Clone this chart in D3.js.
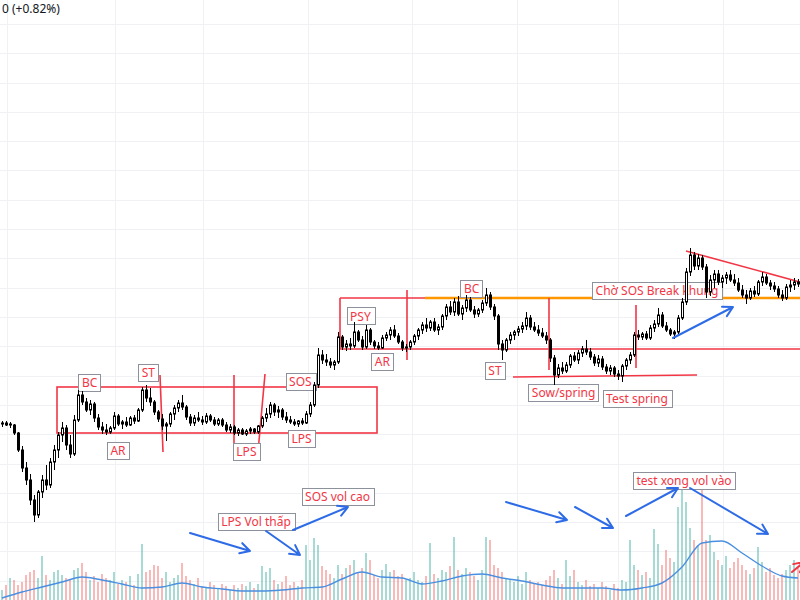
<!DOCTYPE html>
<html>
<head>
<meta charset="utf-8">
<script src="https://cdn.jsdelivr.net/npm/d3@7"></script>
<style>
  html, body { margin: 0; padding: 0; background: #fff; }
  svg { display: block; font-family: "Noto Sans", sans-serif; }
</style>
</head>
<body>
<svg id="chart" width="800" height="600"></svg>
<script>
// candle data: [open, high, low, close]
const ohlc = [
  [17.6,17.9,17.3,17.7],[17.7,17.9,17.4,17.5],[17.5,17.8,17.2,17.6],[17.5,17.6,16.5,16.7],[16.7,16.8,14.8,15.0],
  [15.0,15.4,12.8,13.2],[13.2,13.8,11.5,12.0],[12.0,12.6,9.5,10.0],[10.0,10.5,7.8,8.5],[8.5,11.0,8.2,10.8],
  [10.8,12.5,10.2,12.0],[12.0,13.5,11.0,11.5],[11.5,14.2,11.2,13.8],[13.8,15.5,13.0,15.0],[15.0,16.8,14.2,16.5],
  [16.5,17.8,15.8,17.2],[17.2,17.5,15.0,15.5],[15.5,16.5,14.2,14.6],[14.6,18.5,14.4,18.0],[18.0,21.0,17.8,20.5],
  [20.5,20.9,19.5,19.8],[19.8,20.2,18.8,19.0],[19.0,20.0,18.5,19.6],[19.6,19.8,17.8,18.2],[18.2,18.6,17.0,17.3],
  [17.3,17.8,16.6,17.0],[17.0,17.6,16.5,16.8],[16.8,17.4,16.6,17.2],[17.2,18.8,17.0,18.4],[18.4,18.6,17.4,17.6],
  [17.6,18.0,17.1,17.8],[17.8,18.3,17.3,17.5],[17.5,18.4,17.4,18.2],[18.2,18.5,17.6,17.9],[17.9,19.2,17.8,19.0],
  [19.0,21.3,18.8,21.0],[21.0,21.5,19.8,20.2],[20.2,21.2,19.4,19.8],[19.8,20.0,18.5,18.8],[18.8,19.0,17.8,18.1],
  [18.1,18.6,17.0,17.4],[17.4,17.8,15.9,17.6],[17.6,18.8,17.3,18.6],[18.6,19.5,18.0,19.2],[19.2,20.0,18.8,19.7],
  [19.7,20.5,19.0,19.3],[19.3,19.5,18.0,18.3],[18.3,18.6,17.4,17.7],[17.7,18.5,17.4,18.2],[18.2,18.8,17.8,18.0],
  [18.0,18.4,17.5,17.8],[17.8,18.7,17.6,18.4],[18.4,18.6,17.8,18.0],[18.0,18.3,17.4,17.6],[17.6,18.2,17.4,18.0],
  [18.0,18.2,17.3,17.5],[17.5,17.8,16.8,17.0],[17.0,17.6,16.7,17.3],[17.3,17.5,16.5,16.7],[16.7,17.2,16.4,17.0],
  [17.0,17.2,16.5,16.6],[16.6,17.1,16.4,16.9],[16.9,17.3,16.6,17.1],[17.1,17.2,16.6,16.8],[16.8,17.5,16.6,17.4],
  [17.4,18.4,17.2,18.2],[18.2,19.2,17.8,18.6],[18.6,19.8,18.2,19.5],[19.5,19.7,18.4,18.8],[18.8,19.4,18.2,19.0],
  [19.0,19.2,18.0,18.3],[18.3,18.8,17.7,18.0],[18.0,18.4,17.6,17.8],[17.8,18.1,17.4,17.6],[17.6,18.0,17.3,17.9],
  [17.9,18.2,17.5,17.7],[17.7,18.9,17.6,18.6],[18.6,19.8,18.3,19.5],[19.5,21.8,19.3,21.5],[21.5,25.2,21.2,24.5],
  [24.5,25.0,23.6,24.0],[24.0,24.6,23.4,23.8],[23.8,24.2,23.2,23.5],[23.5,24.0,23.0,23.8],[23.8,26.8,23.6,26.3],
  [26.3,26.5,25.0,25.3],[25.3,26.0,24.9,25.6],[25.6,26.2,25.0,25.4],[25.4,27.8,25.2,26.8],[26.8,27.0,25.8,26.0],
  [26.0,26.4,25.0,25.3],[25.3,27.5,25.1,27.0],[27.0,27.2,25.5,25.8],[25.8,26.0,25.1,25.4],[25.4,25.8,25.0,25.2],
  [25.2,26.5,25.1,26.2],[26.2,26.8,25.9,26.5],[26.5,27.3,26.0,27.0],[27.0,27.5,26.2,26.4],[26.4,26.7,25.6,25.8],
  [25.8,26.0,24.9,25.2],[25.2,25.6,24.8,25.3],[25.3,26.0,25.0,25.8],[25.8,26.6,25.5,26.4],[26.4,27.2,26.0,27.0],
  [27.0,27.8,26.6,27.5],[27.5,28.2,26.8,27.2],[27.2,28.0,26.9,27.8],[27.8,28.2,26.8,27.0],[27.0,27.6,26.5,27.3],
  [27.3,28.6,27.0,28.4],[28.4,29.6,28.0,29.3],[29.3,29.9,28.5,28.8],[28.8,30.2,28.4,29.8],[29.8,30.4,28.4,28.6],
  [28.6,29.5,28.0,29.2],[29.2,30.5,28.8,30.0],[30.0,30.3,28.8,29.0],[29.0,29.4,28.2,28.6],[28.6,29.2,28.3,29.0],
  [29.0,30.0,28.7,29.7],[29.7,31.2,29.4,30.5],[30.5,30.8,29.0,29.3],[29.3,29.6,28.0,28.4],[28.4,28.6,25.0,25.6],
  [25.6,26.0,24.0,25.0],[25.0,26.2,24.8,26.0],[26.0,26.8,25.6,26.5],[26.5,27.0,26.0,26.8],[26.8,27.4,26.4,27.1],
  [27.1,27.8,26.7,27.4],[27.4,28.8,27.0,28.2],[28.2,28.5,27.0,27.3],[27.3,27.8,26.8,27.0],[27.0,27.5,26.4,26.7],
  [26.7,27.2,26.2,26.4],[26.4,26.8,25.6,26.0],[26.0,26.2,23.8,24.2],[24.2,24.5,21.5,22.5],[22.5,23.6,22.2,23.2],
  [23.2,23.8,22.6,22.9],[22.9,23.8,22.7,23.5],[23.5,24.6,23.2,24.4],[24.4,24.8,23.8,24.0],[24.0,25.0,23.6,24.7],
  [24.7,25.4,24.3,25.1],[25.1,26.0,24.5,24.8],[24.8,25.2,24.0,24.3],[24.3,24.6,23.4,23.7],[23.7,24.5,23.3,24.1],
  [24.1,24.4,23.0,23.3],[23.3,23.6,22.6,22.9],[22.9,23.5,22.5,23.2],[23.2,23.4,22.3,22.6],[22.6,23.0,22.0,22.4],
  [22.4,23.6,21.8,23.4],[23.4,24.2,23.0,24.0],[24.0,24.8,23.6,24.5],[24.5,26.8,24.3,26.5],[26.5,27.0,26.0,26.3],
  [26.3,26.8,26.0,26.6],[26.6,26.9,26.0,26.2],[26.2,27.5,26.0,27.2],[27.2,28.0,26.8,27.6],[27.6,29.2,27.3,28.5],
  [28.5,28.8,27.2,27.4],[27.4,27.8,26.8,27.0],[27.0,27.2,26.4,26.6],[26.6,27.0,26.1,26.8],[26.8,28.5,26.6,28.2],
  [28.2,30.2,28.0,29.8],[29.8,33.2,29.5,32.8],[32.8,35.2,32.4,34.5],[34.5,34.8,33.0,33.4],[33.4,34.6,33.0,34.2],
  [34.2,34.5,33.0,33.3],[33.3,33.6,30.2,30.8],[30.8,32.5,30.4,32.0],[32.0,33.0,31.2,32.6],[32.6,33.0,31.5,31.8],
  [31.8,32.5,31.2,32.2],[32.2,32.8,31.6,32.5],[32.5,33.0,31.8,32.0],[32.0,32.6,31.4,31.7],[31.7,32.2,30.8,31.0],
  [31.0,31.5,30.2,30.5],[30.5,31.0,29.6,30.2],[30.2,31.2,30.0,30.9],[30.9,31.4,30.3,30.6],[30.6,32.0,30.4,31.8],
  [31.8,32.8,31.4,32.3],[32.3,32.6,31.5,31.7],[31.7,32.0,31.0,31.4],[31.4,31.8,30.8,31.1],[31.1,31.4,30.2,30.5],
  [30.5,31.0,29.9,30.2],[30.2,31.6,30.0,31.3],[31.3,32.0,30.8,31.5],[31.5,32.2,31.0,31.8],[31.8,32.1,31.3,31.6]
];

// volume per candle
const volume = [
  1.0,1.5,2.2,2.0,1.5,1.8,2.5,2.8,3.0,2.2, 4.4,2.5,2.0,2.8,3.0,2.5,2.2,2.0,3.0,3.2,
  3.7,2.8,2.0,2.4,1.8,2.6,2.2,2.0,2.8,1.6, 2.0,1.8,2.4,1.5,2.6,5.6,2.8,3.0,3.5,3.4,
  2.2,2.8,1.8,2.2,2.5,3.7,2.4,2.0,1.6,2.2, 1.4,1.2,1.8,1.5,1.2,1.6,1.4,1.0,1.5,1.2,
  1.6,1.4,1.8,1.2,1.6,3.4,2.8,3.2,2.0,1.6, 1.8,2.4,1.5,1.8,1.4,2.0,5.5,4.0,6.2,5.5,
  3.4,3.0,2.6,2.2,3.5,2.6,3.2,3.5,4.0,2.8, 3.2,4.7,4.0,2.5,2.2,3.0,3.6,2.8,3.0,2.4,
  2.6,2.0,2.2,2.8,2.0,1.8,2.4,5.7,2.6,2.2, 3.0,2.8,3.4,6.3,3.0,2.6,3.2,2.8,2.4,2.0,
  3.0,6.3,6.0,3.5,3.2,2.8,2.2,2.0,1.8,2.4, 1.6,2.8,2.0,1.6,1.8,1.5,2.0,2.4,3.0,2.2,
  1.6,4.0,2.4,3.0,1.8,1.5,2.0,1.4,1.6,1.2, 1.8,1.4,1.0,1.6,1.2,2.0,1.8,6.0,3.5,3.0,
  2.5,2.8,2.2,7.1,5.6,3.5,5.0,4.2,3.8,9.3, 11.7,9.8,7.2,6.0,5.5,12.0,6.0,6.5,4.8,4.0,
  3.5,4.4,3.2,3.8,4.2,3.5,3.0,2.6,3.2,5.3, 3.8,2.8,3.2,2.5,2.2,2.6,3.0,3.5,4.0,3.2
];

// volume moving average, read at every fifth candle
const maIndex = [0,5,10,15,20,25,30,35,40,45,50,55,60,65,70,75,80,85,90,95,100,105,110,115,120,125,130,135,140,145,150,155,160,165,170,175,180,185,190,195,199];
const maValue = [0.2,0.8,1.3,1.8,2.3,2.0,1.6,1.2,1.3,1.7,1.3,1.1,0.9,0.9,1.0,1.2,1.3,2.1,2.8,2.3,2.2,1.6,1.9,2.4,2.6,2.2,1.9,1.5,1.2,1.2,1.2,1.0,1.2,1.7,3.3,5.7,5.9,4.7,3.4,2.4,2.2];

// grid ticks
const gridPrices = [57.6,54.67,51.74,48.81,45.88,42.95,40.02,37.09,34.16,31.23,28.3,25.37,22.44,19.51,16.58,13.65,10.72,7.79,4.86,1.93];
const gridIndex = [1.25,28.25,50.25,76.5,102.5,128.75,154,180.25];

// wyckoff labels on price: [text, index, price]
const priceLabels = [
  ['BC',21.9,21.75],['AR',29,14.95],['ST',36.6,22.75],['LPS',61.1,14.85],['SOS',74.6,21.85],
  ['LPS',74.9,16.15],['PSY',89.6,28.4],['AR',95.1,23.85],['BC',117.4,31.2],['ST',123.25,22.95],
  ['Sow/spring',140.4,20.75],['Test spring',158.75,20.2],['Chờ SOS Break khung',163.75,30.95]
];
// labels on volume: [text, index, volume]
const volLabels = [
  ['LPS Vol thấp',63.5,7.9],['SOS vol cao',83.9,10.4],['test xong vol vào',170.5,11.95]
];

// drawn lines on price: [i1, p1, i2, p2, colour]
const priceLines = [
  [84.5,30.2,105.75,30.2,'red'],[105.75,30.2,199.5,30.2,'orange'],[84.5,25.1,199.5,25.1,'red'],
  [84.5,30.2,84.5,25.1,'red'],
  [39.5,22.5,40.25,14.8,'red'],[58,22.5,58,15.2,'red'],[65.75,22.6,64,14.8,'red'],
  [101.25,31.0,101.25,24.0,'red'],[136.75,30.2,136.75,23.0,'red'],[158.5,29.5,158.5,23.2,'red'],
  [127.75,22.3,173.75,22.5,'red'],[171,34.9,199.5,31.8,'red']
];
const rangeBox = [13.75,21.3,93.75,16.7];

// arrows: [i1, v1, i2, v2]
const priceArrows = [[167.75,26.2,182.75,29.3]];
const volArrows = [
  [47,6.7,62,4.9],[66,6.9,74.5,4.5],[72.75,7.0,86.5,9.3],[126,9.8,141.25,8.0],
  [143.25,9.3,152.75,7.2],[156,8.4,169,11.2],[172,11.2,191.5,6.6]
];
const redVolArrow = [197.5,2.8,200.5,3.8];

const COLORS = { red: '#f23645', orange: '#ff9800', blue: '#2e6be6' };

const svg = d3.select('#chart');
const W = 800, H = 600;

const x = d3.scaleLinear().domain([0, 199]).range([2, 798]);
const y = d3.scaleLinear().domain([0, 60]).range([600, 0]);
const yVol = d3.scaleLinear().domain([0, 12]).range([600, 480]);

svg.append('rect').attr('width', W).attr('height', H).attr('fill', '#fff');

// grid
const grid = svg.append('g').attr('stroke', '#f0f1f4').attr('stroke-width', 1);
grid.selectAll('line.h').data(gridPrices).join('line').attr('class', 'h')
  .attr('x1', 0).attr('x2', W)
  .attr('y1', d => Math.round(y(d)) + 0.5).attr('y2', d => Math.round(y(d)) + 0.5);
grid.selectAll('line.v').data(gridIndex).join('line').attr('class', 'v')
  .attr('y1', 0).attr('y2', H)
  .attr('x1', d => Math.round(x(d)) + 0.5).attr('x2', d => Math.round(x(d)) + 0.5);

// volume bars
svg.append('g').selectAll('rect').data(volume).join('rect')
  .attr('x', (d, i) => x(i) - 0.8)
  .attr('width', 1.6)
  .attr('y', d => yVol(d))
  .attr('height', d => yVol(0) - yVol(d))
  .attr('fill', (d, i) => ohlc[i][3] >= ohlc[i][0] ? 'rgba(38,166,154,0.5)' : 'rgba(239,83,80,0.5)');

// volume MA
svg.append('path')
  .datum(maIndex.map((d, k) => [d, maValue[k]]))
  .attr('fill', 'none').attr('stroke', '#4a8fe0').attr('stroke-width', 1.4)
  .attr('d', d3.line().x(d => x(d[0])).y(d => yVol(d[1])).curve(d3.curveMonotoneX));

// range box and lines
svg.append('rect')
  .attr('x', x(rangeBox[0])).attr('y', y(rangeBox[1]))
  .attr('width', x(rangeBox[2]) - x(rangeBox[0]))
  .attr('height', y(rangeBox[3]) - y(rangeBox[1]))
  .attr('fill', 'none').attr('stroke', COLORS.red).attr('stroke-width', 1.6);

svg.append('g').selectAll('line').data(priceLines).join('line')
  .attr('x1', d => x(d[0])).attr('y1', d => y(d[1]))
  .attr('x2', d => x(d[2])).attr('y2', d => y(d[3]))
  .attr('stroke', d => COLORS[d[4]])
  .attr('stroke-width', d => d[4] === 'orange' ? 2.4 : 1.6);

// labels (drawn under the candles)
function drawLabel(g, text, cx, cy) {
  const lg = g.append('g');
  const t = lg.append('text')
    .attr('x', cx).attr('y', cy)
    .attr('text-anchor', 'middle').attr('dominant-baseline', 'central')
    .attr('font-size', 12).attr('fill', COLORS.red)
    .text(text);
  const w = t.node().getComputedTextLength() + 7;
  lg.insert('rect', 'text')
    .attr('x', Math.round(cx - w / 2) + 0.5).attr('y', Math.round(cy - 8.5) + 0.5)
    .attr('width', Math.round(w)).attr('height', 17)
    .attr('fill', '#fff').attr('stroke', '#8d919b').attr('stroke-width', 1);
}
const labelG = svg.append('g');
priceLabels.forEach(d => drawLabel(labelG, d[0], x(d[1]), y(d[2])));
volLabels.forEach(d => drawLabel(labelG, d[0], x(d[1]), yVol(d[2])));

// candles
const cg = svg.append('g').selectAll('g').data(ohlc).join('g');
cg.append('line')
  .attr('x1', (d, i) => Math.round(x(i)) + 0.5).attr('x2', (d, i) => Math.round(x(i)) + 0.5)
  .attr('y1', d => y(d[1])).attr('y2', d => y(d[2]))
  .attr('stroke', '#000').attr('stroke-width', 1);
cg.append('rect')
  .attr('x', (d, i) => Math.round(x(i)) - 0.5)
  .attr('width', 2)
  .attr('y', d => y(Math.max(d[0], d[3])))
  .attr('height', d => Math.max(1, Math.abs(y(d[0]) - y(d[3]))))
  .attr('fill', d => d[3] >= d[0] ? '#fff' : '#000')
  .attr('stroke', '#000').attr('stroke-width', 1);

// arrows
function drawArrow(g, x1, y1, x2, y2, color) {
  const a = Math.atan2(y2 - y1, x2 - x1);
  const L = 11, s = 0.5;
  const p1 = [x2 - L * Math.cos(a - s), y2 - L * Math.sin(a - s)];
  const p2 = [x2 - L * Math.cos(a + s), y2 - L * Math.sin(a + s)];
  g.append('path')
    .attr('d', `M${x1},${y1}L${x2},${y2}M${p1[0]},${p1[1]}L${x2},${y2}L${p2[0]},${p2[1]}`)
    .attr('fill', 'none').attr('stroke', color).attr('stroke-width', 2)
    .attr('stroke-linecap', 'round').attr('stroke-linejoin', 'round');
}
const arrowG = svg.append('g');
priceArrows.forEach(d => drawArrow(arrowG, x(d[0]), y(d[1]), x(d[2]), y(d[3]), COLORS.blue));
volArrows.forEach(d => drawArrow(arrowG, x(d[0]), yVol(d[1]), x(d[2]), yVol(d[3]), COLORS.blue));
drawArrow(arrowG, x(redVolArrow[0]), yVol(redVolArrow[1]), x(redVolArrow[2]), yVol(redVolArrow[3]), COLORS.red);

// header fragment
svg.append('text')
  .attr('x', 2).attr('y', 13)
  .attr('font-size', 12).attr('fill', '#131722')
  .text('0 (+0.82%)');
</script>
</body>
</html>
